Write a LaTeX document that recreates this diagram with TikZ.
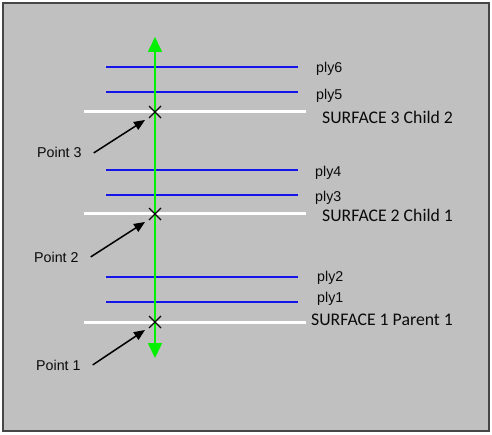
\documentclass[tikz,border=0pt]{standalone}
\usepackage{fontspec}
\setmainfont{Liberation Sans}
\newfontfamily\calib{Carlito}
\usetikzlibrary{arrows.meta}
\definecolor{bggray}{RGB}{192,192,192}
\definecolor{framegray}{RGB}{70,70,70}
\definecolor{plyblue}{RGB}{20,20,235}
\definecolor{axisgreen}{RGB}{0,240,0}
\definecolor{txt}{RGB}{10,10,10}
\begin{document}
\begin{tikzpicture}[x=1bp,y=-1bp,
  ply/.style={draw=plyblue,line width=2bp},
  surf/.style={draw=white,line width=3bp},
  plylabel/.style={anchor=base west,inner sep=0pt,text=txt,font=\fontsize{14.3}{16}\selectfont},
  surflabel/.style={anchor=base west,inner sep=0pt,text=txt,font=\calib\fontsize{17.8}{19}\selectfont},
  ptlabel/.style={anchor=base west,inner sep=0pt,text=txt,font=\fontsize{14.3}{16}\selectfont},
  cross/.style={draw=txt,line width=1.3bp},
  pointer/.style={draw=black,line width=1.5bp,-{Triangle[length=11bp,width=9bp]}},
  axis/.style={draw=axisgreen,line width=1.6bp,{Triangle[length=15bp,width=14bp]}-{Triangle[length=15bp,width=14bp]}}]
\useasboundingbox (0,0) rectangle (492,435);
\fill[white] (0,0) rectangle (492,435);
\draw[fill=bggray,draw=framegray,line width=1.5bp] (3,3) rectangle (489,431);
% ply lines
\foreach \y in {67,92,170,195,277,302} \draw[ply] (106,\y) -- (298,\y);
% surfaces
\foreach \y in {112,214,322} \draw[surf] (84,\y) -- (306,\y);
% axis
\coordinate (axtop) at (155,37);
\coordinate (axbot) at (155,358);
\draw[axis] (axbot) -- (axtop);
% crosses
\foreach \n/\y in {3/112,2/214,1/322}{
  \coordinate (x\n) at (155,\y);
  \draw[cross] ([shift={(-6,-6)}]x\n) -- ([shift={(6,6)}]x\n);
  \draw[cross] ([shift={(-6,6)}]x\n) -- ([shift={(6,-6)}]x\n);
}
% labels
\node[plylabel] (l6) at (316,73) {ply6};
\node[plylabel] (l5) at (316,100) {ply5};
\node[surflabel] (s3) at (322,124) {SURFACE 3 Child 2};
\node[plylabel] (l4) at (315,177) {ply4};
\node[plylabel] (l3) at (315,202) {ply3};
\node[surflabel] (s2) at (322,222) {SURFACE 2 Child 1};
\node[plylabel] (l2) at (317,281) {ply2};
\node[plylabel] (l1) at (317,302) {ply1};
\node[surflabel] (s1) at (311,325) {SURFACE 1 Parent 1};
% point labels and pointers
\node[ptlabel] (p3) at (37,158) {Point 3};
\node[ptlabel] (p2) at (34,262) {Point 2};
\node[ptlabel] (p1) at (36,370) {Point 1};
\coordinate (t3) at (145,120);
\coordinate (t2) at (145,222);
\coordinate (t1) at (145,330);
\draw[pointer] ([xshift=12bp]p3.east) -- (t3);
\draw[pointer] ([xshift=12bp]p2.east) -- (t2);
\draw[pointer] ([xshift=12bp]p1.east) -- (t1);
\end{tikzpicture}
\end{document}
